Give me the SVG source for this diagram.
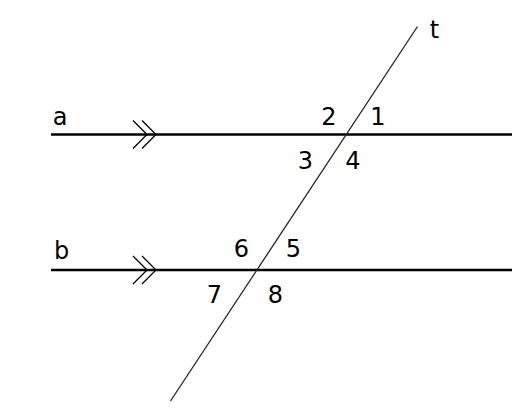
<svg xmlns="http://www.w3.org/2000/svg" width="530" height="409" viewBox="0 0 530 409">
<style>
.ln{stroke:#000;stroke-width:2.5;fill:none}
.tr{stroke:#222;stroke-width:1.3;fill:none}
.ch{stroke:#000;stroke-width:1.3;fill:none}
text{font-family:"DejaVu Sans",sans-serif;font-size:24px;fill:#000;text-anchor:middle}
</style>
<rect width="530" height="409" fill="#fff"/>
<g id="connectors">
<line id="line-a" class="ln" x1="51" y1="134.5" x2="512" y2="134.5"/>
<line id="line-b" class="ln" x1="51" y1="270" x2="512" y2="270"/>
<line id="line-t" class="tr" x1="417.5" y1="26.5" x2="170.5" y2="401"/>
<polyline class="ch" points="133,120.5 147,134.5 133,148.5"/>
<polyline class="ch" points="142,120.5 156,134.5 142,148.5"/>
<polyline class="ch" points="133,256 147,270 133,284"/>
<polyline class="ch" points="142,256 156,270 142,284"/>
</g>
<g id="label-a"><text x="60" y="124.5">a</text></g>
<g id="label-b"><text x="61.5" y="258.5">b</text></g>
<g id="label-t"><text x="434.5" y="38">t</text></g>
<g id="angle-1"><text x="378" y="125">1</text></g>
<g id="angle-2"><text x="329" y="125">2</text></g>
<g id="angle-3"><text x="305.5" y="169">3</text></g>
<g id="angle-4"><text x="353" y="169">4</text></g>
<g id="angle-5"><text x="293.5" y="257">5</text></g>
<g id="angle-6"><text x="241.5" y="257">6</text></g>
<g id="angle-7"><text x="214.5" y="302.5">7</text></g>
<g id="angle-8"><text x="275.5" y="302.5">8</text></g>
</svg>
